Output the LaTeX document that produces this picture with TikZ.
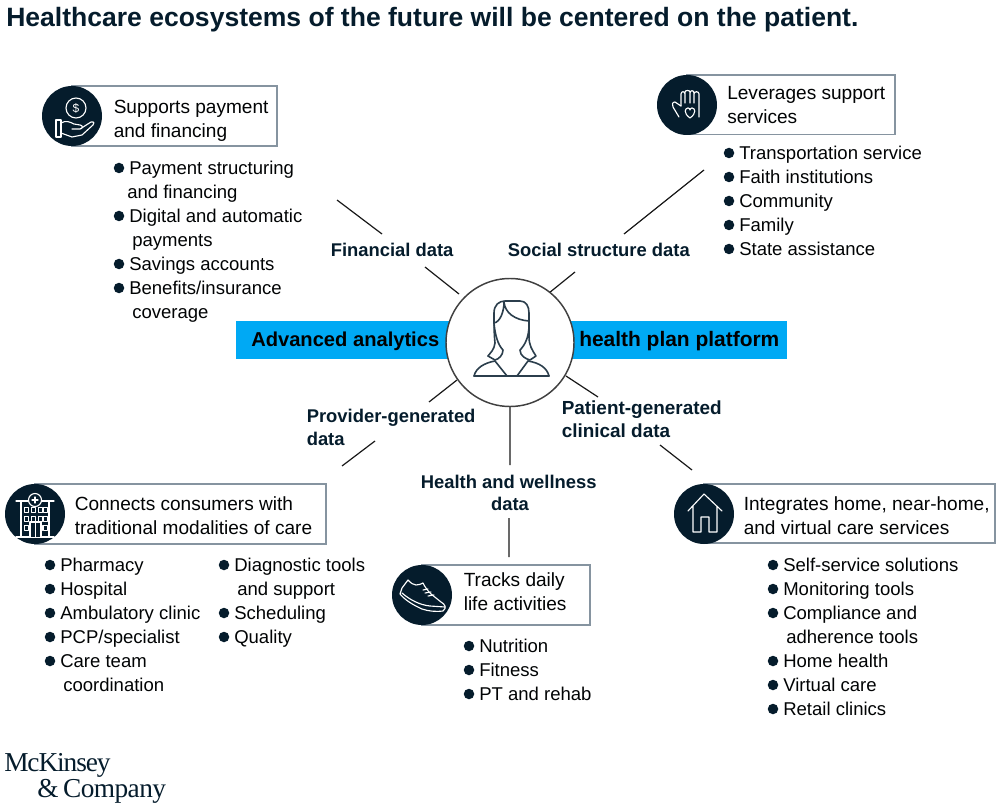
\documentclass[tikz,border=0pt]{standalone}
\usepackage{fontspec}
\setmainfont{Liberation Sans}
\newfontfamily\logofont[LetterSpace=-4]{Liberation Serif}
\newfontfamily\logofontb[LetterSpace=-2]{Liberation Serif}
\definecolor{navy}{HTML}{051C2C}
\definecolor{skyb}{HTML}{00A9F4}
\definecolor{boxline}{HTML}{8694A0}
\tikzset{
  txt/.style={anchor=base west,inner sep=0pt,text=black!90!navy,font=\fontsize{13.9}{17}\selectfont},
  cardtxt/.style={anchor=base west,inner sep=0pt,text=black!90!navy,font=\fontsize{14.3}{17}\selectfont},
  lab/.style={anchor=base west,inner sep=0pt,text=navy,font=\fontsize{13.8}{16}\selectfont\bfseries},
  labw/.style={anchor=base west,inner sep=0pt,text=navy,font=\fontsize{14.2}{16}\selectfont\bfseries},
  bar/.style={anchor=base west,inner sep=0pt,text=black,font=\fontsize{15.1}{18}\selectfont\bfseries},
  dot/.style={circle,fill=navy,inner sep=0pt,minimum size=10.5*0.75pt},
  iconbg/.style={circle,fill=navy,inner sep=0pt,minimum size=60*0.75pt},
  cardbox/.style={draw=boxline,line width=0.8pt,fill=white},
  link/.style={draw=black!90,line width=0.9pt},
  ico/.style={draw=white,line width=0.85pt,line join=round,line cap=round},
  ava/.style={draw=navy!85!white,line width=1.2pt,line join=round,line cap=round}
}
\begin{document}
\begin{tikzpicture}[x=0.75pt,y=-0.75pt]
\useasboundingbox (0,0) rectangle (1000,806);
\fill[white] (0,0) rectangle (1000,806);
% title
\node[anchor=base west,inner sep=0pt,text=navy,font=\fontsize{19.9}{24}\selectfont\bfseries] (title) at (6,27) {Healthcare ecosystems of the future will be centered on the patient.};
% bar
\fill[skyb] (236,321) rectangle (787,359);
\node[bar] (barl) at (251,346.5) {Advanced analytics};
\node[bar,font=\fontsize{15.7}{18}\selectfont\bfseries] (barr) at (579,346.5) {health plan platform};
% connector ends
\coordinate (f1) at (337,200); \coordinate (f2) at (382,234); \coordinate (f3) at (425,267); \coordinate (f4) at (459,294);
\coordinate (s1) at (704,170); \coordinate (s2) at (624,234); \coordinate (s3) at (575,272); \coordinate (s4) at (549,293);
\coordinate (p1) at (566,376); \coordinate (p2) at (598,397); \coordinate (p3) at (660,445); \coordinate (p4) at (692,470);
\coordinate (g1) at (457,380); \coordinate (g2) at (429,402); \coordinate (g3) at (375,441); \coordinate (g4) at (342,466);
\coordinate (h1) at (510,405); \coordinate (h2) at (510,465); \coordinate (h3) at (509,518); \coordinate (h4) at (509,557);
\draw[link] (f1)--(f2) (f3)--(f4) (s1)--(s2) (s3)--(s4) (p1)--(p2) (p3)--(p4) (g1)--(g2) (g3)--(g4) (h1)--(h2) (h3)--(h4);
% hub
\node[circle,draw=black!75,line width=1.1pt,fill=white,minimum size=128*0.75pt,inner sep=0pt] (hub) at (510,342.5) {};
\draw[ava] (488,356) .. controls (491,352) and (494,350) .. (495,343) .. controls (494,334) and (494,322) .. (494,313) .. controls (494,305) and (499,301) .. (505,301) -- (520,301) .. controls (526,301) and (529,306) .. (529,313) -- (529,337) .. controls (529,345) and (532,350) .. (536,356) -- (530,360) .. controls (526,359) and (520,356) .. (520,350) .. controls (525,345) and (529,337) .. (529,325);
\draw[ava] (488,356) -- (495,360) .. controls (499,359) and (503,355) .. (503,350) .. controls (498,345) and (495,335) .. (494,323);
\draw[ava] (494,323) .. controls (500,322) and (504,312) .. (504,302) .. controls (505,313) and (515,320) .. (529,321);
\draw[ava] (495,361) -- (507,376) (528,361) -- (517,376);
\draw[ava] (474,376) .. controls (476,368) and (484,363) .. (495,361) (528,361) .. controls (540,363) and (547,368) .. (549,376);
\draw[ava,line width=1.4pt] (474,376) -- (549,376);
% card 1
\draw[cardbox] (72,86) rectangle (277,146);
\node[iconbg] (c1) at (72,116) {};
\draw[ico] (76,108) circle (10);
\node[text=white,inner sep=0pt,font=\fontsize{9}{10}\selectfont] (c1s) at (76,108) {\$};
\draw[ico] (56,120) rectangle (61,137);
\draw[ico] (61,123) .. controls (66,120) and (70,122) .. (74,124) -- (80,125) .. controls (83,125) and (83,129) .. (80,129) -- (72,129) (80,129) -- (91,122) .. controls (94,121) and (95,124) .. (93,125) -- (82,135) -- (72,137) -- (61,133);
\node[cardtxt] (t1a) at (113.5,114) {Supports payment};
\node[cardtxt] (t1b) at (113.5,138) {and financing};
% card 2
\draw[cardbox] (687,75) rectangle (895,134.5);
\node[iconbg] (c2) at (687,105) {};
\draw[ico] (681,106) -- (681,94) .. controls (681,91) and (685,91) .. (685,94) -- (685,103) (685,94) -- (685,92) .. controls (685,90) and (690,90) .. (690,92) -- (690,103) (690,93) .. controls (690,90) and (694,90) .. (694,93) -- (694,103) (694,94) .. controls (694,91) and (699,91) .. (699,94) -- (699,117);
\draw[ico] (681,106) -- (675,102) .. controls (672,102) and (672,105) .. (673,107) -- (679,117);
\draw[ico] (690,118) .. controls (683,113) and (685,108) .. (688,108) .. controls (689,108) and (690,109) .. (690,110) .. controls (690,109) and (691,108) .. (692,108) .. controls (695,108) and (697,113) .. (690,118) -- cycle;
\node[cardtxt] (t2a) at (727,100) {Leverages support};
\node[cardtxt] (t2b) at (727,124) {services};
% card 3
\draw[cardbox] (35,484) rectangle (326,544);
\node[iconbg] (c3) at (35,514) {};
\draw[ico] (35,500) circle (6.5);
\draw[ico] (35,497) -- (35,503) (32,500) -- (38,500);
\draw[ico] (16,501) -- (28.5,501) (41.5,501) -- (54,501);
\draw[ico] (21,501) -- (21,536) (49,501) -- (49,536) (16,537) -- (54,537);
\foreach \yy in {507,516,525}{
  \foreach \xx in {24,31,38,43}{ \draw[ico,line width=0.6pt] (\xx,\yy) rectangle +(4,5); }
}
\fill[navy] (30,522) rectangle (41,537);
\draw[ico] (30,537) -- (30,522) -- (41,522) -- (41,537) (35.5,522) -- (35.5,537);
\node[cardtxt] (t3a) at (74.5,510) {Connects consumers with};
\node[cardtxt] (t3b) at (74.5,534) {traditional modalities of care};
% card 4
\draw[cardbox] (422,565) rectangle (590,625);
\node[iconbg] (c4) at (422,595) {};
\draw[ico] (402,588) -- (408,580) .. controls (411,583) and (413,585) .. (416,585) .. controls (419,585) and (421,584) .. (423,583) .. controls (425,587) and (427,590) .. (431,594) -- (441,602) .. controls (445,604) and (447,608) .. (443,611) .. controls (435,612) and (428,611) .. (422,609) .. controls (413,605) and (405,600) .. (400,594) -- cycle;
\draw[ico] (402,593) .. controls (410,600) and (420,605) .. (430,606) -- (445,607);
\draw[ico] (423,590) -- (428,589) (425,593) -- (431,592) (428,596) -- (434,595);
\node[cardtxt] (t4a) at (463.5,586) {Tracks daily};
\node[cardtxt] (t4b) at (463.5,610) {life activities};
% card 5
\draw[cardbox] (704,484) rectangle (995,543);
\node[iconbg] (c5) at (704,514) {};
\draw[ico] (688,511) -- (704,494) -- (722,511) (693,506) -- (693,532) -- (701,532) -- (701,517) -- (709,517) -- (709,532) -- (717,532) -- (717,506);
\node[cardtxt] (t5a) at (743.5,510) {Integrates home, near-home,};
\node[cardtxt] (t5b) at (743.5,534) {and virtual care services};
% labels
\node[lab] (l1) at (330.5,256.5) {Financial data};
\node[lab] (l2) at (507.5,256.5) {Social structure data};
\node[lab] (l3a) at (306.5,422.5) {Provider-generated};
\node[lab] (l3b) at (306.5,445.5) {data};
\node[labw] (l4a) at (561.5,414.5) {Patient-generated};
\node[labw] (l4b) at (561.5,437.5) {clinical data};
\node[lab] (l5a) at (420.5,488) {Health and wellness};
\node[lab,anchor=base] (l5b) at (510,510) {data};
% lists
\node[dot] (d11) at (119,168) {}; \node[txt] (x11) at (129,174.5) {Payment structuring};
\node[txt] (x12) at (127,198.5) {and financing};
\node[dot] (d13) at (119,216) {}; \node[txt] (x13) at (129,222.5) {Digital and automatic};
\node[txt] (x14) at (132,246.5) {payments};
\node[dot] (d15) at (119,264) {}; \node[txt] (x15) at (129,270.5) {Savings accounts};
\node[dot] (d16) at (119,288) {}; \node[txt] (x16) at (129,294.5) {Benefits/insurance};
\node[txt] (x17) at (132,318.5) {coverage};
\node[dot] (d21) at (729,153) {}; \node[txt] (x21) at (739,159.5) {Transportation service};
\node[dot] (d22) at (729,177) {}; \node[txt] (x22) at (739,183.5) {Faith institutions};
\node[dot] (d23) at (729,201) {}; \node[txt] (x23) at (739,207.5) {Community};
\node[dot] (d24) at (729,225) {}; \node[txt] (x24) at (739,231.5) {Family};
\node[dot] (d25) at (729,249) {}; \node[txt] (x25) at (739,255.5) {State assistance};
\node[dot] (d31) at (50,565) {}; \node[txt] (x31) at (60,571.5) {Pharmacy};
\node[dot] (d32) at (50,589) {}; \node[txt] (x32) at (60,595.5) {Hospital};
\node[dot] (d33) at (50,613) {}; \node[txt] (x33) at (60,619.5) {Ambulatory clinic};
\node[dot] (d34) at (50,637) {}; \node[txt] (x34) at (60,643.5) {PCP/specialist};
\node[dot] (d35) at (50,661) {}; \node[txt] (x35) at (60,667.5) {Care team};
\node[txt] (x36) at (63,691.5) {coordination};
\node[dot] (d37) at (224,565) {}; \node[txt] (x37) at (234,571.5) {Diagnostic tools};
\node[txt] (x38) at (237,595.5) {and support};
\node[dot] (d39) at (224,613) {}; \node[txt] (x39) at (234,619.5) {Scheduling};
\node[dot] (d30) at (224,637) {}; \node[txt] (x30) at (234,643.5) {Quality};
\node[dot] (d41) at (469,646) {}; \node[txt] (x41) at (479,652.5) {Nutrition};
\node[dot] (d42) at (469,670) {}; \node[txt] (x42) at (479,676.5) {Fitness};
\node[dot] (d43) at (469,694) {}; \node[txt] (x43) at (479,700.5) {PT and rehab};
\node[dot] (d51) at (773,565) {}; \node[txt] (x51) at (783,571.5) {Self-service solutions};
\node[dot] (d52) at (773,589) {}; \node[txt] (x52) at (783,595.5) {Monitoring tools};
\node[dot] (d53) at (773,613) {}; \node[txt] (x53) at (783,619.5) {Compliance and};
\node[txt] (x54) at (786,643.5) {adherence tools};
\node[dot] (d55) at (773,661) {}; \node[txt] (x55) at (783,667.5) {Home health};
\node[dot] (d56) at (773,685) {}; \node[txt] (x56) at (783,691.5) {Virtual care};
\node[dot] (d57) at (773,709) {}; \node[txt] (x57) at (783,715.5) {Retail clinics};
% logo
\node[anchor=base west,inner sep=0pt,text=navy,font=\logofont\fontsize{20.5}{22}\selectfont] (m1) at (4,771) {McKinsey};
\node[anchor=base west,inner sep=0pt,text=navy,font=\logofontb\fontsize{20.5}{22}\selectfont] (m2) at (37,797) {\&\,Company};
\end{tikzpicture}
\end{document}
